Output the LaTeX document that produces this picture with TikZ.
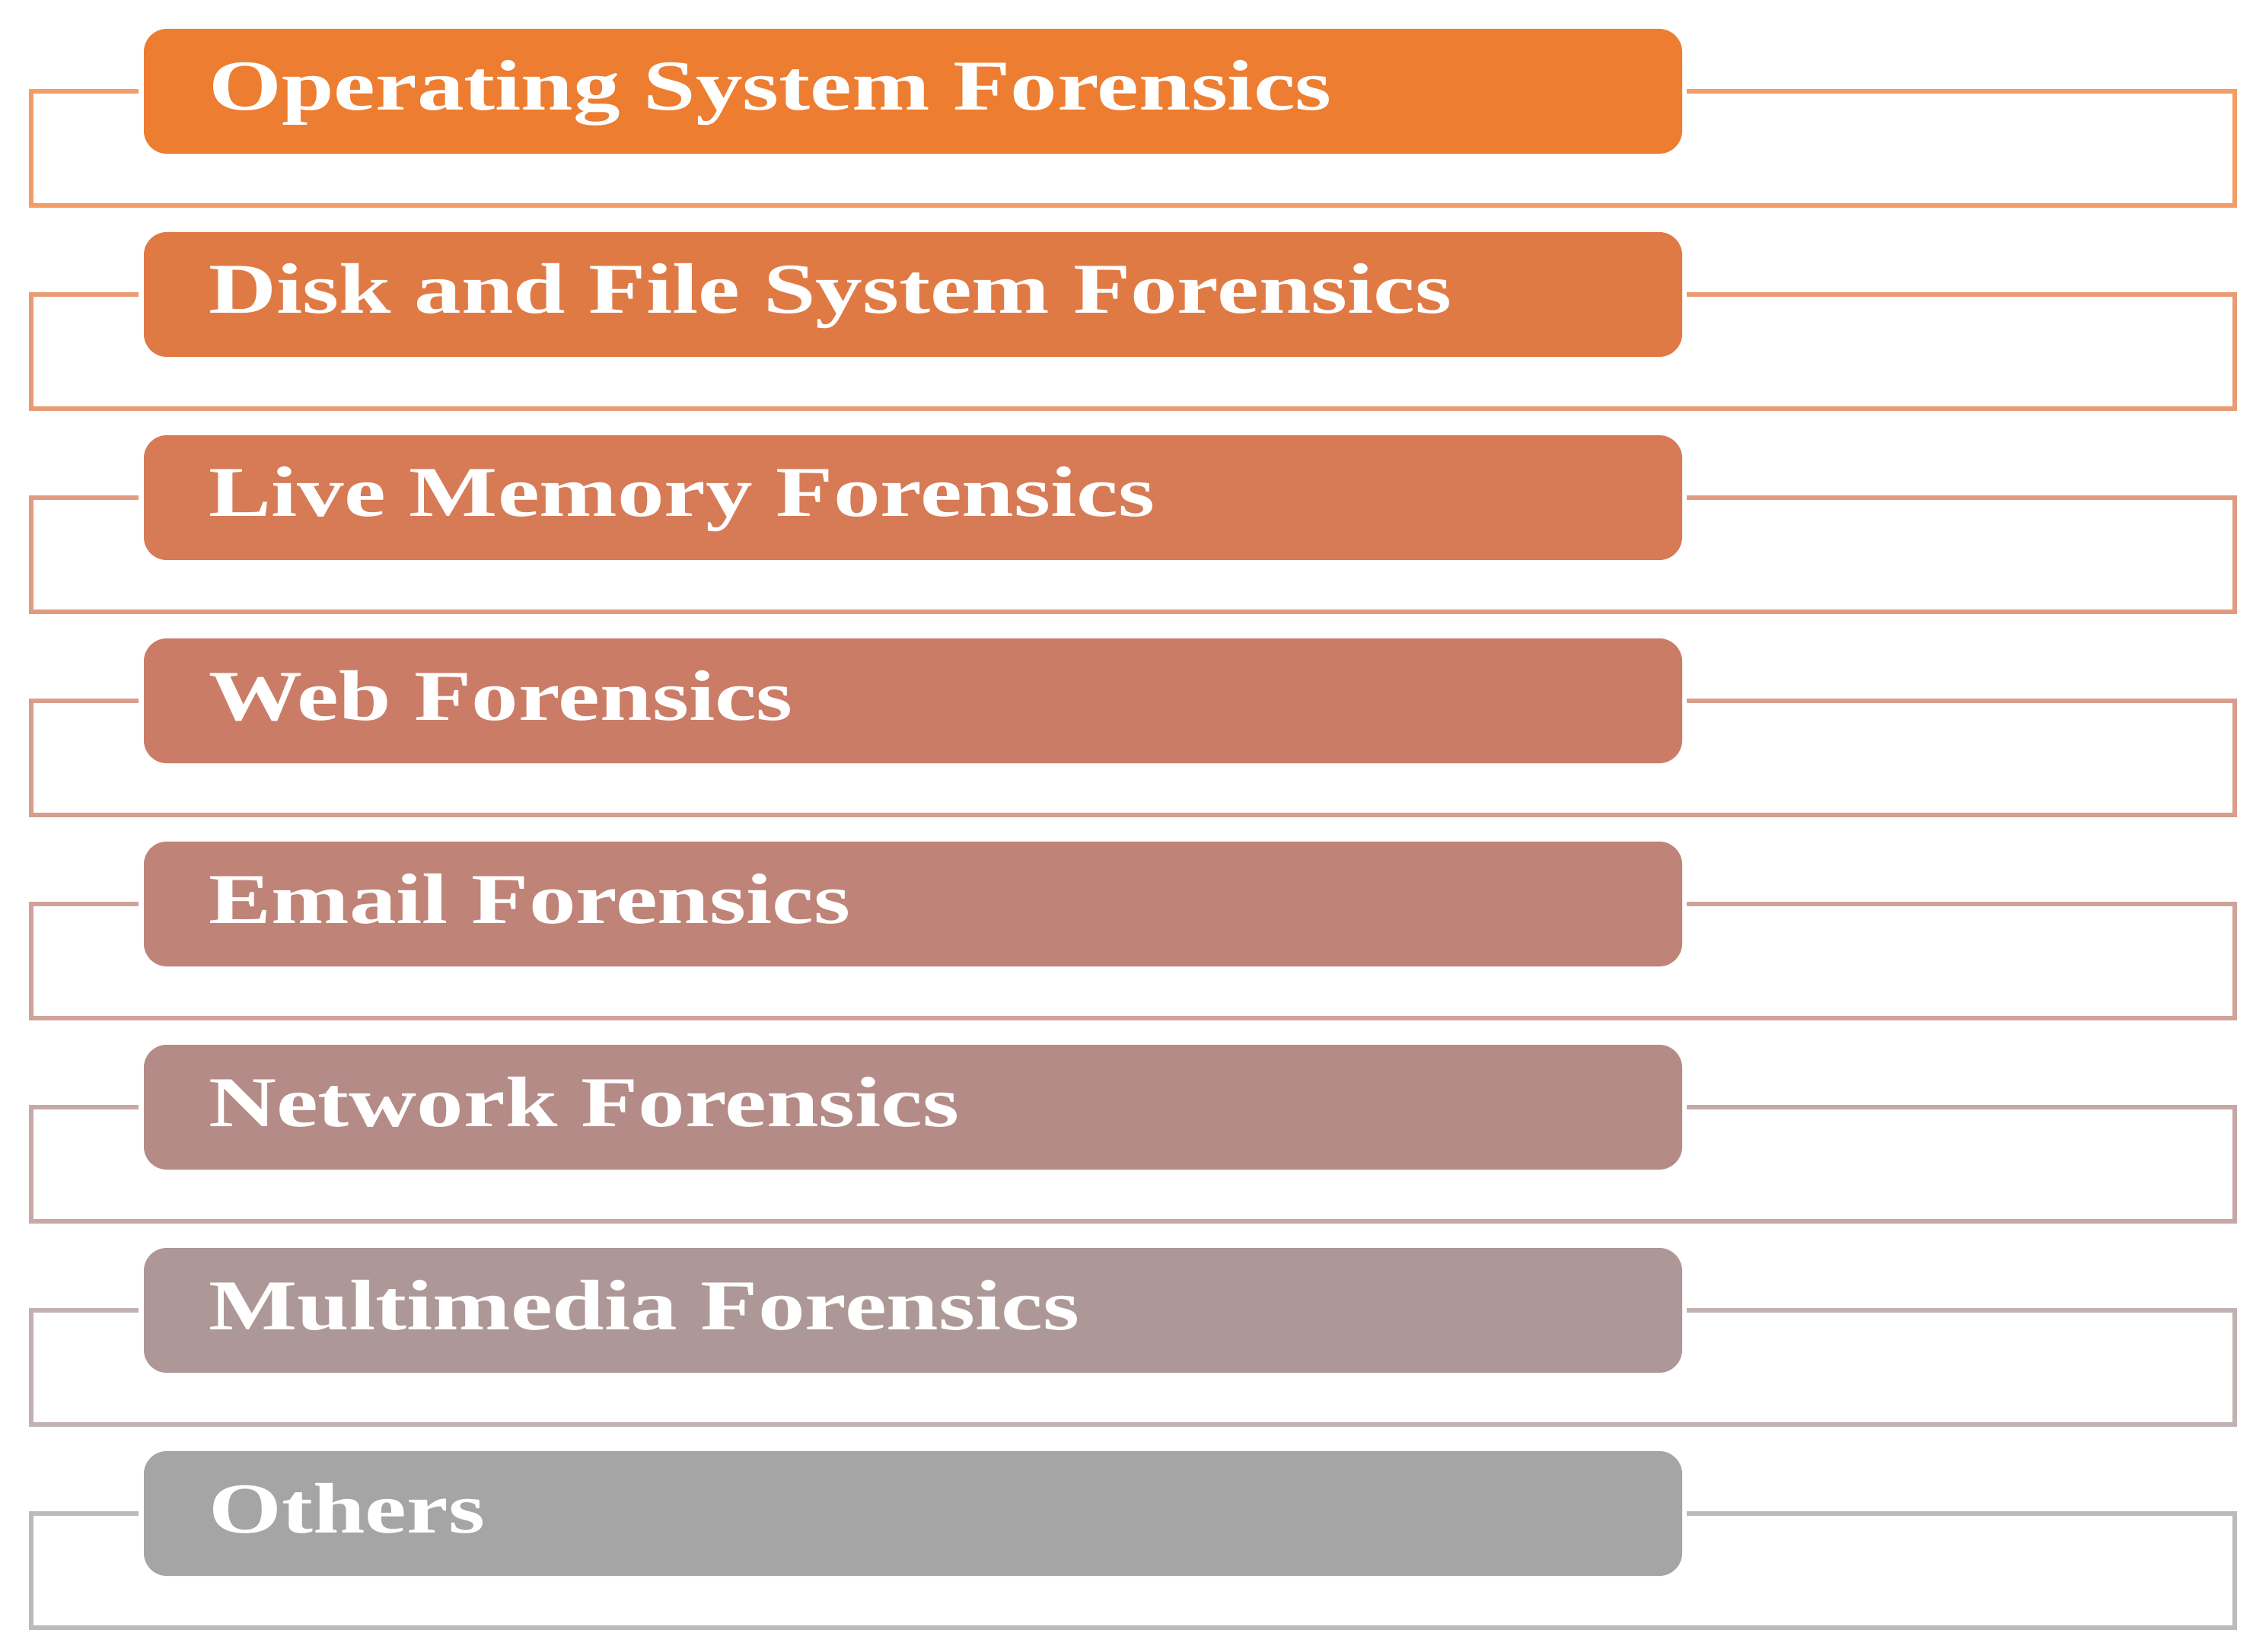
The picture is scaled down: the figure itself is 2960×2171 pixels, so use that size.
\documentclass[tikz,border=0pt]{standalone}
\usepackage{fontspec}
\newfontfamily\boxfont[FakeStretch=1.31]{Liberation Serif}
\definecolor{c0}{HTML}{ED7D31}
\definecolor{c1}{HTML}{E07A45}
\definecolor{c2}{HTML}{D67B56}
\definecolor{c3}{HTML}{CB7C66}
\definecolor{c4}{HTML}{C08377}
\definecolor{c5}{HTML}{B58B87}
\definecolor{c6}{HTML}{AE9797}
\definecolor{c7}{HTML}{A5A5A5}
\tikzset{
  catbox/.style={fill=#1, draw=none, rounded corners=15pt, minimum width=1010.5pt, minimum height=82pt, inner sep=0pt},
  cattext/.style={anchor=base west, text=white, inner sep=0pt, font=\boxfont\bfseries\fontsize{47}{50}\selectfont},
  br/.style={draw=#1!75!white, line width=2.6pt}
}
\begin{document}
\begin{tikzpicture}[x=0.5pt,y=-0.5pt]
\useasboundingbox (0,0) rectangle (2960,2171);
\foreach \i/\lab in {0/Operating System Forensics,1/Disk and File System Forensics,2/Live Memory Forensics,3/Web Forensics,4/Email Forensics,5/Network Forensics,6/Multimedia Forensics,7/Others}{
  \pgfmathsetmacro{\yc}{120+267*\i}
  \pgfmathsetmacro{\yb}{270+267*\i}
  \pgfmathsetmacro{\yt}{145+267*\i}
  \node[catbox=c\i] (b\i) at (1199.5,\yc) {};
  \node[cattext] (t\i) at (274,\yt) {\lab};
  \coordinate (bl\i) at (41,\yb);
  \coordinate (brr\i) at (2936,\yb);
  \draw[br=c\i] ([xshift=-3.5pt]b\i.west) -| (bl\i) -- (brr\i) |- ([xshift=3pt]b\i.east);
}
\end{tikzpicture}
\end{document}
